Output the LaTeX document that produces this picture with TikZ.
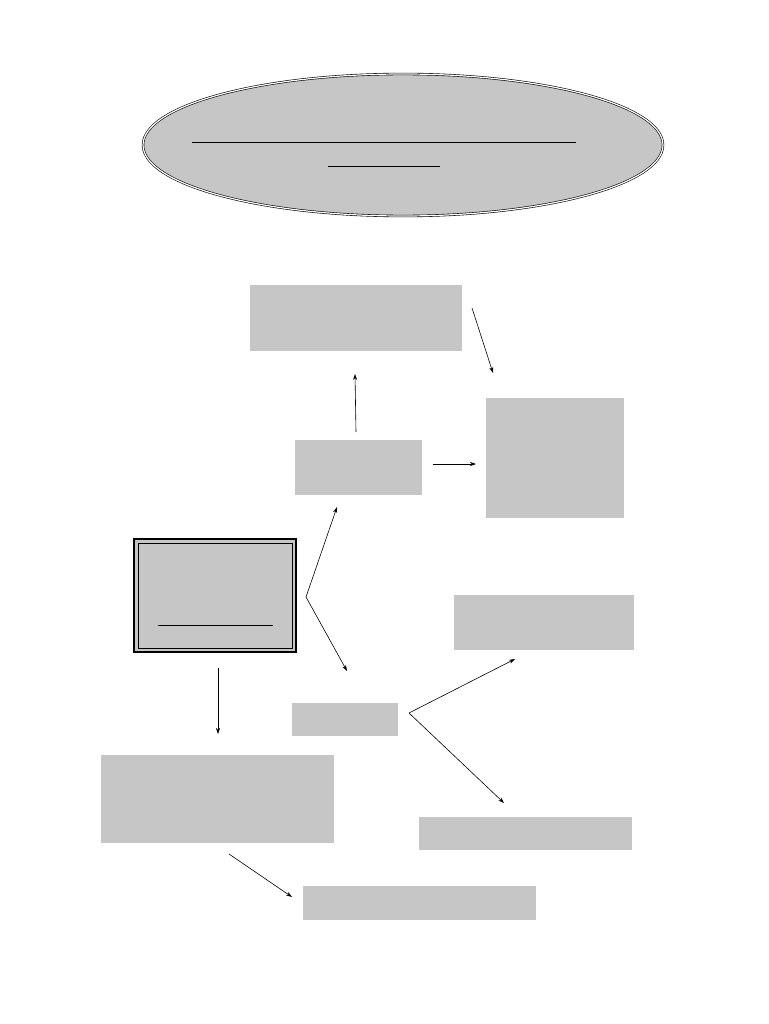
\documentclass[tikz,border=0pt]{standalone}
\usetikzlibrary{shapes.geometric,arrows.meta}
\begin{document}
\begin{tikzpicture}[x=1pt,y=-1pt,
 box/.style={draw=black,fill=gray!45,double=white,double distance=1.2pt,line width=0.6pt},
 arr/.style={-{Stealth[length=6pt,width=4pt]},line width=0.6pt}]
\useasboundingbox (0,0) rectangle (768,1024);
\node[box,ellipse,minimum width=520pt,minimum height=142pt] (ell) at (403,145) {};
\draw[line width=1pt] (192,143) -- (576,143);
\draw[line width=1pt] (328,167) -- (440,167);
\draw[box] (249,284) rectangle (463,352) coordinate (A);
\draw[box] (294,439) rectangle (423,496) coordinate (B);
\draw[box] (485,397) rectangle (625,519) coordinate (C);
\draw[fill=gray!45,line width=2.2pt] (134,539) rectangle (296,652);
\draw[line width=0.6pt] (138,543) rectangle (292,648);
\draw[line width=1pt] (158,625) -- (273,625);
\draw[box] (453,594) rectangle (635,651) coordinate (E);
\draw[box] (291,702) rectangle (399,737) coordinate (F);
\draw[box] (100,754) rectangle (335,844) coordinate (G);
\draw[box] (418,816) rectangle (633,851) coordinate (H);
\draw[box] (302,885) rectangle (537,921) coordinate (I);
\coordinate (p1) at (356,432); \coordinate (q1) at (355,374);
\coordinate (p2) at (472,308); \coordinate (q2) at (493,373);
\coordinate (p3) at (433,464); \coordinate (q3) at (476,464);
\coordinate (p4) at (306,597); \coordinate (q4) at (337,507); \coordinate (q5) at (347,671);
\coordinate (p6) at (218,668); \coordinate (q6) at (218,734);
\coordinate (p7) at (409,713); \coordinate (q7) at (515,659); \coordinate (q8) at (504,803);
\coordinate (p9) at (229,854); \coordinate (q9) at (292,897);
\draw[arr] (p1) -- (q1);
\draw[arr] (p2) -- (q2);
\draw[arr] (p3) -- (q3);
\draw[arr] (p4) -- (q4);
\draw[arr] (p4) -- (q5);
\draw[arr] (p6) -- (q6);
\draw[arr] (p7) -- (q7);
\draw[arr] (p7) -- (q8);
\draw[arr] (p9) -- (q9);
\end{tikzpicture}
\end{document}
